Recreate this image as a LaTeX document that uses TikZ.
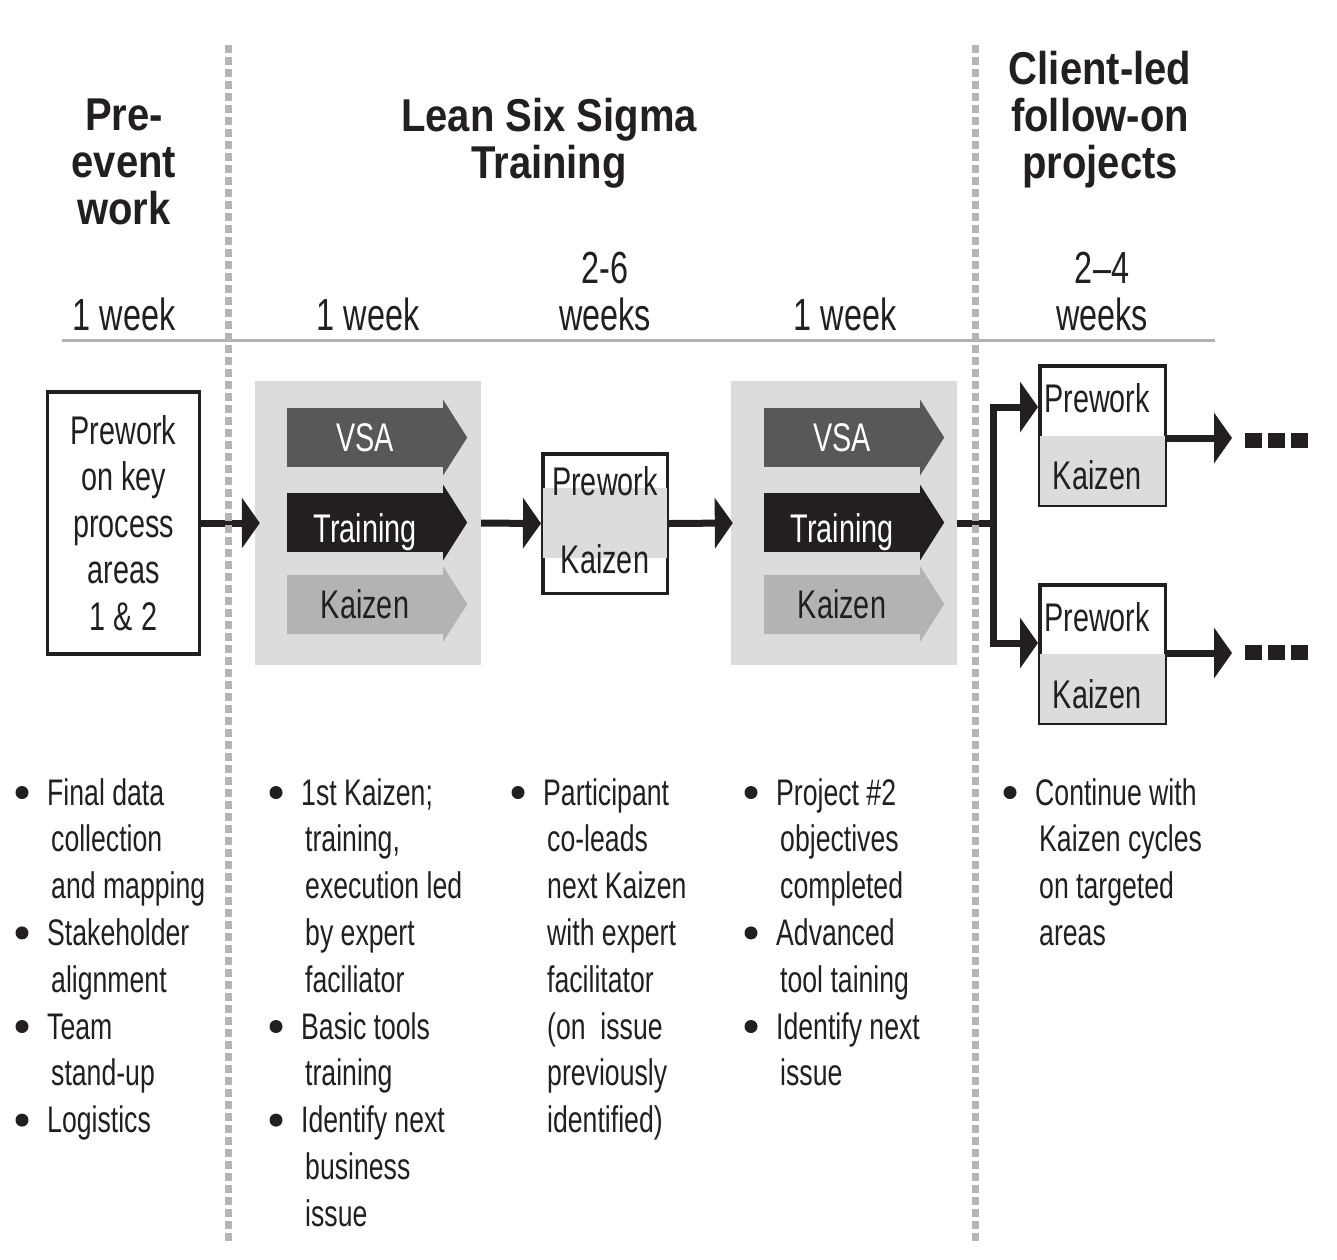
\documentclass[tikz,border=0pt]{standalone}
\usepackage{fontspec}
\setmainfont{Liberation Sans}[FakeStretch=0.72]
\newfontfamily\headfont{Liberation Sans}[FakeStretch=0.87]
\usetikzlibrary{arrows.meta,calc}
\definecolor{ink}{HTML}{231F20}
\definecolor{lgray}{HTML}{DCDCDC}
\definecolor{dgray}{HTML}{B5B5B5}
\definecolor{rgray}{HTML}{B0B0B0}
\definecolor{vsagray}{HTML}{58585A}
\definecolor{kzgray}{HTML}{B3B3B3}
\newcommand\boxfont{\fontsize{40}{46.5}\selectfont}
\newcommand\bitem[4]{%
  \node[btext] (#1) at (#2,{805+46.8*#3}) {#4};
  \fill[ink] ([xshift=-25pt,yshift=12.5pt]#1.base west) circle (6.5pt);}
\newcommand\citem[4]{%
  \node[btext] (#1) at ({#2+4},{805+46.8*#3}) {#4};}
\begin{document}
\begin{tikzpicture}[x=1pt,y=-1pt,
  head/.style={font=\headfont\bfseries\fontsize{46}{47}\selectfont, align=center, inner sep=0pt, text=ink},
  dur/.style={font=\fontsize{45}{47}\selectfont, align=center, inner sep=0pt, text=ink},
  box/.style={draw=ink, line width=3.5pt, inner sep=0pt, text=ink},
  gbox/.style={fill=lgray, inner sep=0pt},
  chev/.style={inner sep=0pt, minimum width=156pt, minimum height=59pt, text height=28.6pt, text depth=0pt, font=\boxfont},
  btxt/.style={font=\boxfont, text=ink, inner sep=0pt, anchor=base},
  btext/.style={font=\fontsize{37}{46.8}\selectfont, text=ink, inner sep=0pt, anchor=base west},
  conn/.style={draw=ink, line width=7pt, -{Triangle[length=18pt,width=50pt]}},
  plain/.style={draw=ink, line width=7pt},
  sep/.style={draw=dgray, line width=7pt, dash pattern=on 8pt off 4pt},
  rule/.style={draw=rgray, line width=3pt}]
\useasboundingbox (0,0) rectangle (1337,1259);

% headings
\node[head] (h1) at (124,162) {Pre-\\event\\work};
\node[head] (h2) at (549,143.5) {Lean Six Sigma\\Training};
\node[head] (h3) at (1100,119.5) {Client-led\\follow-on\\projects};

% durations
\node[dur, anchor=base] (d1) at (124,330) {1 week};
\node[dur, anchor=base] (d2) at (368,330) {1 week};
\node[dur] (d3) at (605,291) {2-6\\weeks};
\node[dur, anchor=base] (d4) at (845,330) {1 week};
\node[dur] (d5) at (1102,291) {2–4\\weeks};

\draw[rule] (62,340) -- (1215,340);

% pre-event box
\node[box, minimum width=152pt, minimum height=262pt, align=center, font=\boxfont] (b1) at (123.5,523) {Prework\\on key\\process\\areas\\1 \& 2};

% gray training boxes
\node[gbox, minimum width=226pt, minimum height=284pt] (g1) at (368,523) {};
\node[gbox, minimum width=226pt, minimum height=284pt] (g2) at (844,523) {};

% chevrons
\foreach \gx/\gn in {365/a,842/b}{
  \node[chev, fill=vsagray, text=white] (vsa\gn) at (\gx,437.5) {VSA};
  \fill[vsagray] ([yshift=8pt]vsa\gn.north east) -- ([xshift=24pt]vsa\gn.east) -- ([yshift=-8pt]vsa\gn.south east) -- cycle;
  \node[chev, fill=ink, text=white] (tr\gn) at (\gx,522.5) {\raisebox{-6pt}{Training}};
  \fill[ink] ([yshift=8pt]tr\gn.north east) -- ([xshift=24pt]tr\gn.east) -- ([yshift=-8pt]tr\gn.south east) -- cycle;
  \node[chev, fill=kzgray, text=ink] (kz\gn) at (\gx,604) {Kaizen};
  \fill[kzgray] ([yshift=8pt]kz\gn.north east) -- ([xshift=24pt]kz\gn.east) -- ([yshift=-8pt]kz\gn.south east) -- cycle;
}

% between box
\node[box, minimum width=124.5pt, minimum height=139.5pt] (b2) at (605,523.5) {};
\fill[lgray] ([xshift=1.75pt]b2.west |- 0,488) rectangle ([xshift=-1.75pt]b2.east |- 0,558);
\node[btxt] (b2p) at (605,495) {Prework};
\node[btxt] (b2k) at (605,573) {Kaizen};

% follow-on boxes
\node[box, minimum width=125.5pt, minimum height=139.5pt] (b3) at (1102.5,435.5) {};
\fill[lgray] ([xshift=1.75pt]b3.west |- 0,436) rectangle ([shift={(-1.75pt,1.75pt)}]b3.south east);
\node[btxt] (b3p) at (1097,412) {Prework};
\node[btxt] (b3k) at (1097,489) {Kaizen};
\node[box, minimum width=125.5pt, minimum height=138.5pt] (b4) at (1102.5,654) {};
\fill[lgray] ([xshift=1.75pt]b4.west |- 0,654) rectangle ([shift={(-1.75pt,1.75pt)}]b4.south east);
\node[btxt] (b4p) at (1097,631) {Prework};
\node[btxt] (b4k) at (1097,708) {Kaizen};

% connectors
\draw[conn] (b1.east) -- ([xshift=5pt]g1.west);
\draw[conn] (g1.east) -- (b2.west);
\draw[conn] (b2.east) -- ([xshift=2pt]g2.west);
\coordinate (jt) at (993,407);
\coordinate (jm) at (993,523);
\coordinate (jb) at (993,643);
\draw[plain] (g2.east) -- (jm);
\draw[conn, line join=miter] (jm) -- (jt) -- (jt -| b3.west);
\draw[conn, line join=miter] (jm) -- (jb) -- (jb -| b4.west);
\coordinate (o3) at (1232,438);
\coordinate (o4) at (1232,653);
\draw[conn] (b3.east |- o3) -- (o3);
\draw[conn] (b4.east |- o4) -- (o4);
\foreach \x in {1245,1268,1291}{
  \fill[ink] (\x,433) rectangle ++(16.5,15);
  \fill[ink] (\x,645) rectangle ++(16.5,15);
}

% separators
\draw[sep] (228,45) -- (228,1245);
\draw[sep] (975,45) -- (975,1245);

% bullet lists
\bitem{a0}{47}{0}{Final data}
\citem{a1}{47}{1}{collection}
\citem{a2}{47}{2}{and mapping}
\bitem{a3}{47}{3}{Stakeholder}
\citem{a4}{47}{4}{alignment}
\bitem{a5}{47}{5}{Team}
\citem{a6}{47}{6}{stand-up}
\bitem{a7}{47}{7}{Logistics}

\bitem{c0}{301}{0}{1st Kaizen;}
\citem{c1}{301}{1}{training,}
\citem{c2}{301}{2}{execution led}
\citem{c3}{301}{3}{by expert}
\citem{c4}{301}{4}{faciliator}
\bitem{c5}{301}{5}{Basic tools}
\citem{c6}{301}{6}{training}
\bitem{c7}{301}{7}{Identify next}
\citem{c8}{301}{8}{business}
\citem{c9}{301}{9}{issue}

\bitem{e0}{543}{0}{Participant}
\citem{e1}{543}{1}{co-leads}
\citem{e2}{543}{2}{next Kaizen}
\citem{e3}{543}{3}{with expert}
\citem{e4}{543}{4}{facilitator}
\citem{e5}{543}{5}{(on\ \ issue}
\citem{e6}{543}{6}{previously}
\citem{e7}{543}{7}{identified)}

\bitem{f0}{776}{0}{Project \#2}
\citem{f1}{776}{1}{objectives}
\citem{f2}{776}{2}{completed}
\bitem{f3}{776}{3}{Advanced}
\citem{f4}{776}{4}{tool taining}
\bitem{f5}{776}{5}{Identify next}
\citem{f6}{776}{6}{issue}

\bitem{k0}{1035}{0}{Continue with}
\citem{k1}{1035}{1}{Kaizen cycles}
\citem{k2}{1035}{2}{on targeted}
\citem{k3}{1035}{3}{areas}
\end{tikzpicture}
\end{document}
